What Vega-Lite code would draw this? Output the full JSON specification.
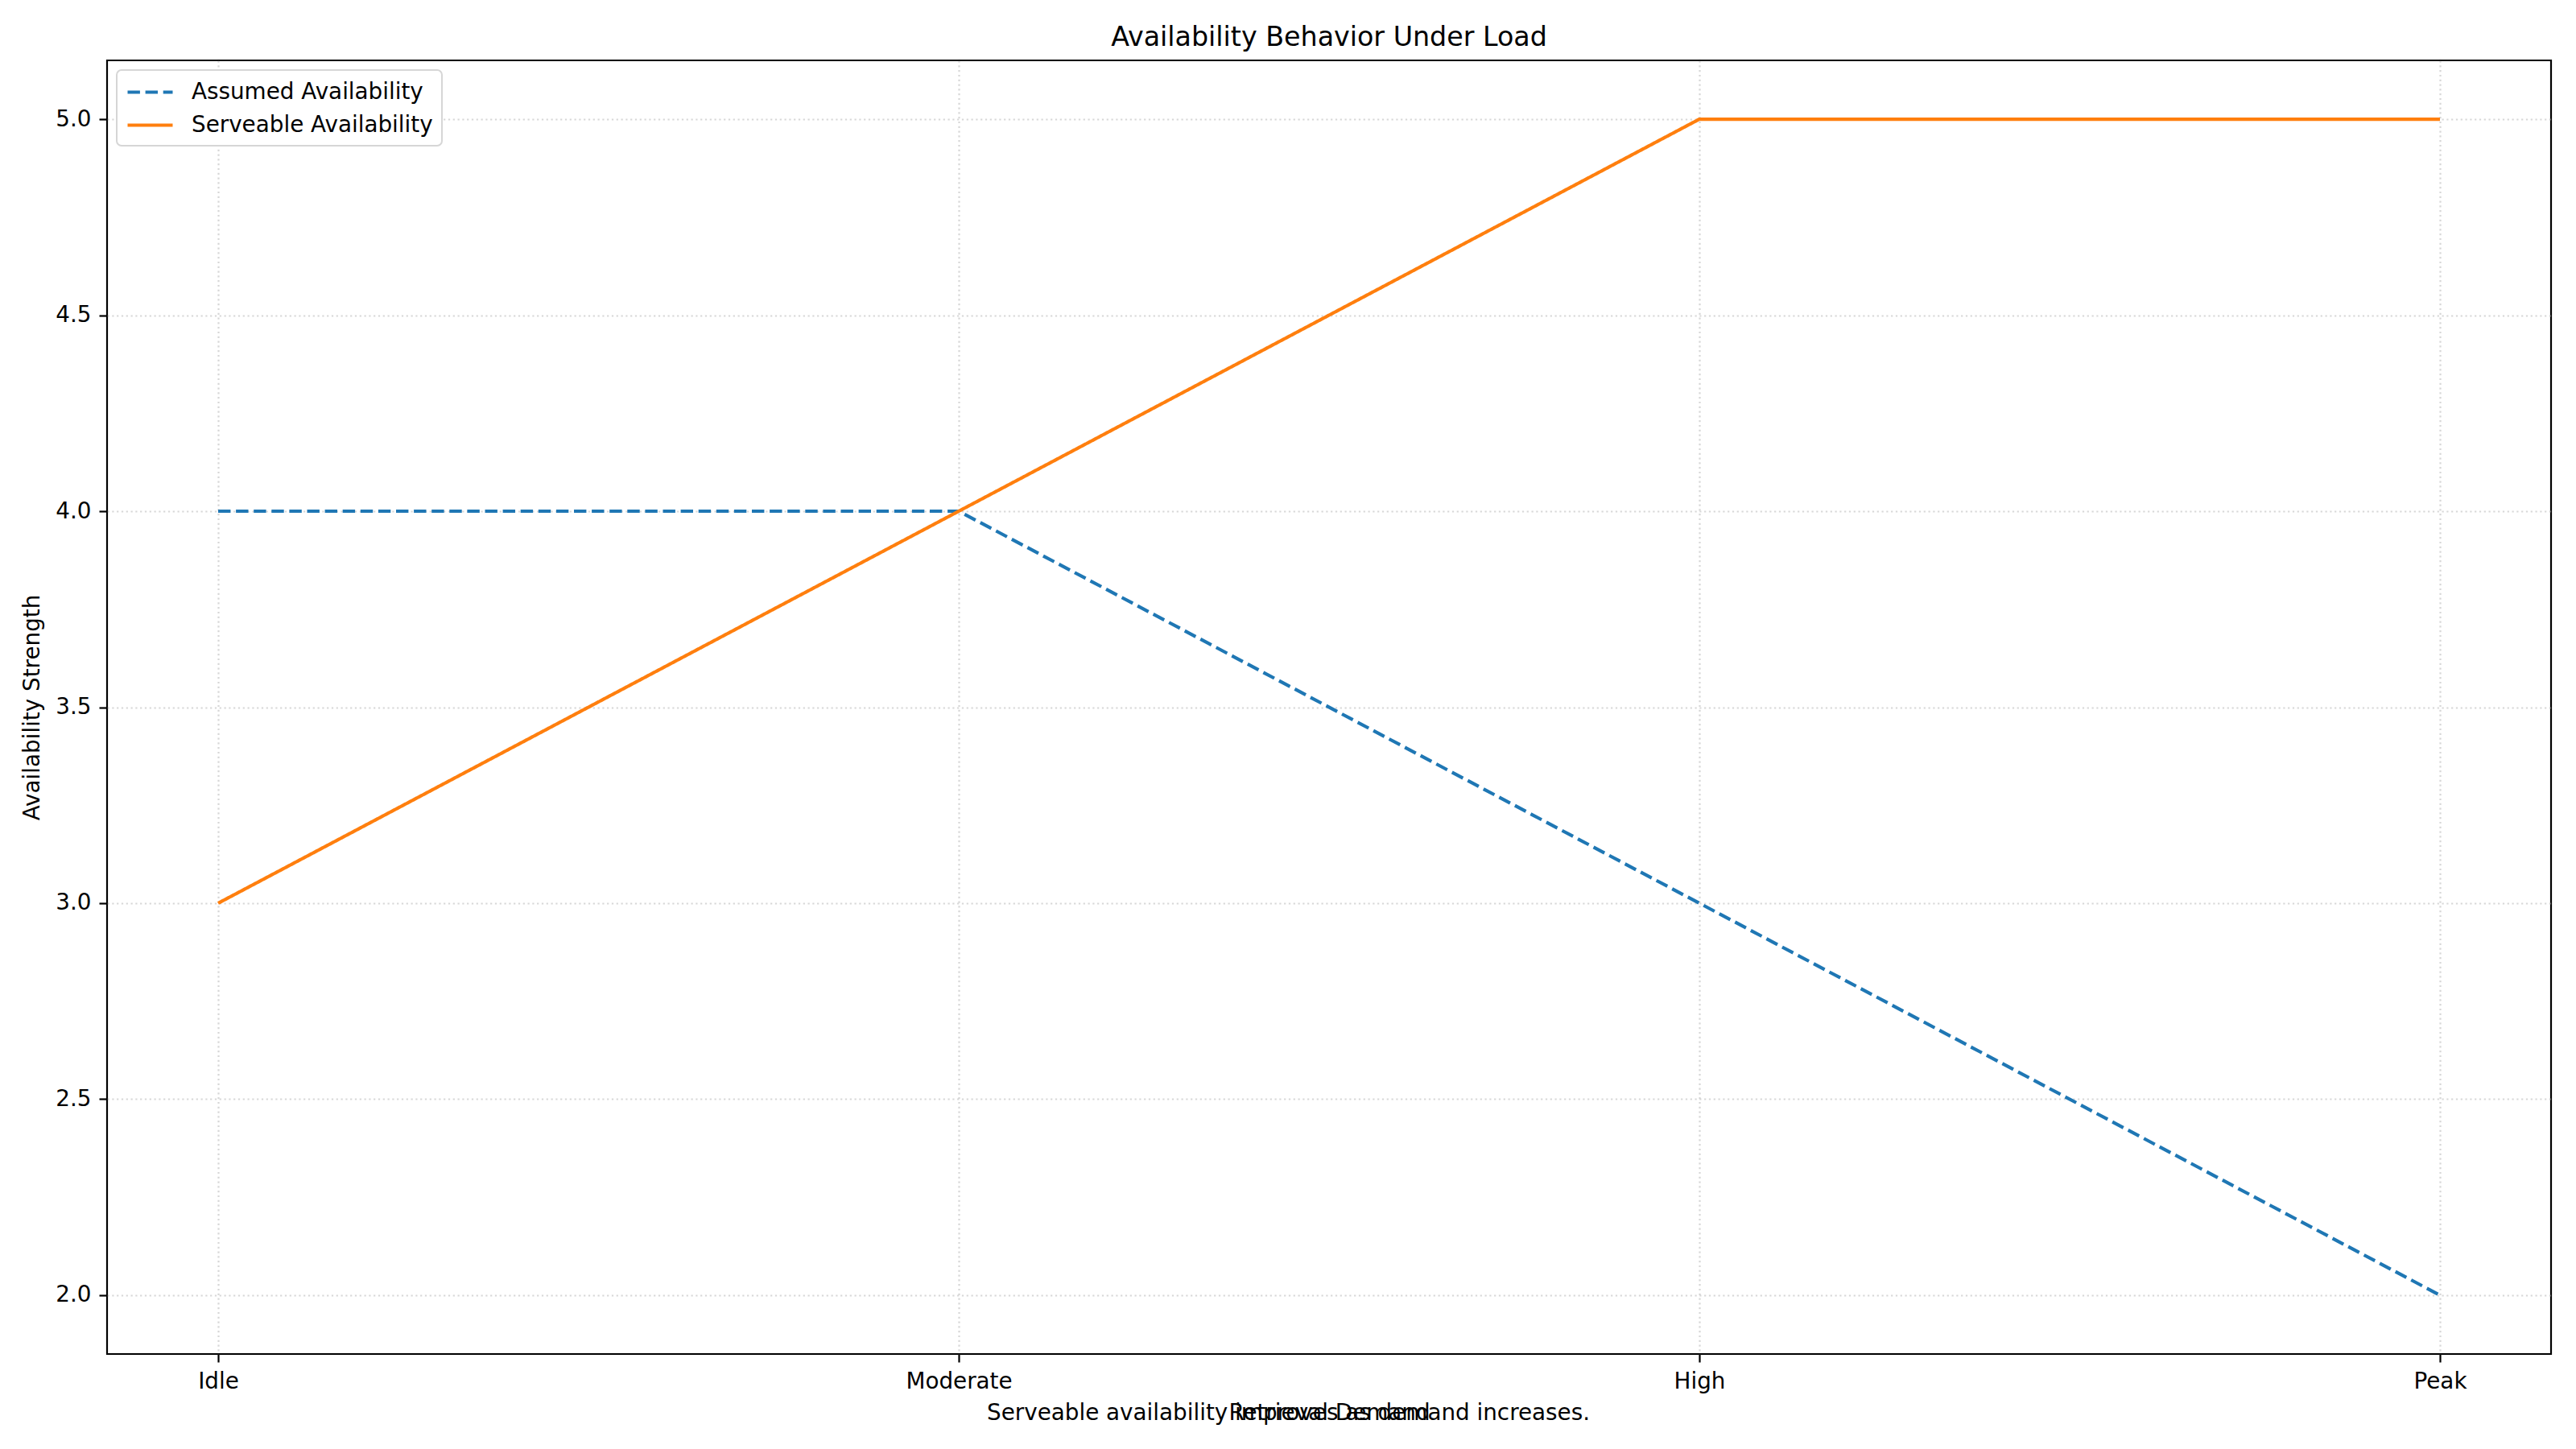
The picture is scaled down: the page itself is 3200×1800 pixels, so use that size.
{
  "$schema": "https://vega.github.io/schema/vega-lite/v6.json",
  "width": 3036,
  "height": 1607,
  "autosize": {"type": "none"},
  "padding": {"left": 133, "top": 75, "right": 31, "bottom": 118},
  "background": "white",
  "title": {"text": "Availability Behavior Under Load", "fontSize": 33.3, "font": "DejaVu Sans", "fontWeight": "normal", "color": "black", "baseline": "alphabetic", "offset": 18, "dy": 33, "anchor": "middle"},
  "data": {"values": [
    {"load": "Idle", "series": "Assumed Availability", "value": 4},
    {"load": "Moderate", "series": "Assumed Availability", "value": 4},
    {"load": "High", "series": "Assumed Availability", "value": 3},
    {"load": "Peak", "series": "Assumed Availability", "value": 2},
    {"load": "Idle", "series": "Serveable Availability", "value": 3},
    {"load": "Moderate", "series": "Serveable Availability", "value": 4},
    {"load": "High", "series": "Serveable Availability", "value": 5},
    {"load": "Peak", "series": "Serveable Availability", "value": 5}
  ]},
  "layer": [
    {
      "mark": {"type": "line", "strokeWidth": 4.17},
      "encoding": {
        "x": {"field": "load", "type": "ordinal", "sort": ["Idle", "Moderate", "High", "Peak"], "scale": {"type": "point", "padding": 0.15},
          "axis": {"title": "Retrieval Demand", "labelAngle": 0, "titleY": 81, "titleBaseline": "alphabetic", "titleAlign": "center"}},
        "y": {"field": "value", "type": "quantitative", "scale": {"domain": [1.85, 5.15], "nice": false, "zero": false},
          "axis": {"title": "Availability Strength", "values": [2, 2.5, 3, 3.5, 4, 4.5, 5], "format": ".1f", "titleX": -85, "titleY": 803.5, "titleBaseline": "alphabetic", "titleAlign": "center", "titleAngle": -90}},
        "color": {"field": "series", "type": "nominal", "scale": {"domain": ["Assumed Availability", "Serveable Availability"], "range": ["#1f77b4", "#ff7f0e"]}, "legend": {"title": null}},
        "strokeDash": {"field": "series", "type": "nominal", "scale": {"domain": ["Assumed Availability", "Serveable Availability"], "range": [[15.4, 6.7], [1, 0]]}, "legend": {"title": null}}
      }
    },
    {
      "mark": {"type": "line", "opacity": 0},
      "encoding": {
        "x": {"field": "load", "type": "ordinal", "sort": ["Idle", "Moderate", "High", "Peak"],
          "axis": {"orient": "bottom", "title": "Serveable availability improves as demand increases.", "labels": false, "ticks": false, "domain": false, "grid": false, "titleX": 1467, "titleY": 81, "titleBaseline": "alphabetic", "titleAlign": "center"}},
        "y": {"field": "value", "type": "quantitative", "axis": null},
        "detail": {"field": "series", "type": "nominal"}
      }
    }
  ],
  "resolve": {"axis": {"x": "independent", "y": "independent"}},
  "config": {
    "view": {"stroke": "black", "strokeWidth": 2.2},
    "axis": {"labelFont": "DejaVu Sans", "labelFontSize": 27.8, "labelColor": "black", "titleFont": "DejaVu Sans", "titleFontSize": 27.8, "titleFontWeight": "normal", "titleColor": "black", "tickColor": "black", "tickWidth": 2.2, "tickSize": 10, "labelPadding": 10, "domain": false, "grid": true, "gridColor": "#b0b0b0", "gridOpacity": 0.5, "gridDash": [2.2, 3.6], "gridWidth": 2.2},
    "legend": {"orient": "top-left", "offset": 12, "labelFont": "DejaVu Sans", "labelFontSize": 27.8, "labelColor": "black", "labelLimit": 0, "symbolType": "M-1,0H3", "symbolSize": 784, "symbolStrokeWidth": 4.17, "padding": 11, "rowPadding": 10, "labelOffset": 49, "fillColor": "white", "strokeColor": "#d6d6d6", "strokeWidth": 2, "cornerRadius": 6}
  }
}
